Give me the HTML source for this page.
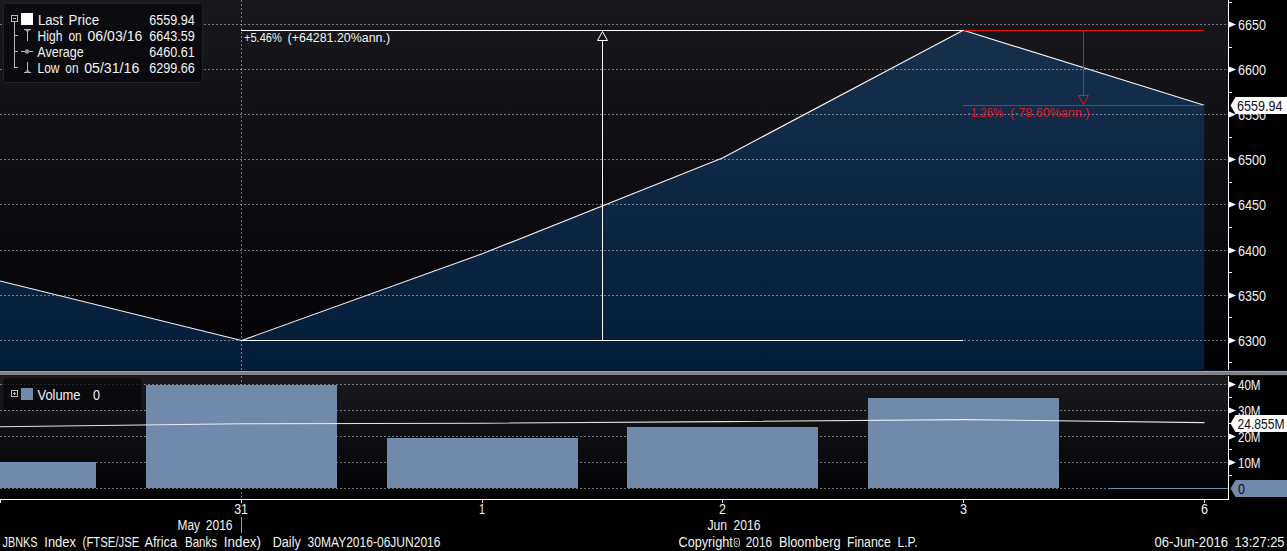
<!DOCTYPE html>
<html><head><meta charset="utf-8"><title>JBNKS Index</title>
<style>html,body{margin:0;padding:0;background:#000;overflow:hidden}svg{display:block}text{font-family:"Liberation Sans",sans-serif;}</style>
</head><body>
<svg width="1287" height="551" viewBox="0 0 1287 551">
<defs>
<linearGradient id="bg1" x1="0" y1="0" x2="0" y2="1"><stop offset="0" stop-color="#19181d"/><stop offset="1" stop-color="#020105"/></linearGradient>
<linearGradient id="bg2" x1="0" y1="0" x2="0" y2="1"><stop offset="0" stop-color="#1a1a1f"/><stop offset="1" stop-color="#020205"/></linearGradient>
<linearGradient id="ar" x1="0" y1="30" x2="0" y2="371" gradientUnits="userSpaceOnUse"><stop offset="0" stop-color="#162f4d"/><stop offset="1" stop-color="#031d3b"/></linearGradient>
</defs>
<rect x="0" y="0" width="1287" height="551" fill="#000"/>
<rect x="0" y="0" width="1228" height="371" fill="url(#bg1)"/>
<rect x="0" y="376" width="1228" height="123" fill="url(#bg2)"/>
<polygon points="0,281 241.5,340.5 482.25,253.8 723,157.7 963.3,30.3 1204.2,105.3 1204.2,371 0,371" fill="url(#ar)"/>
<line x1="0" y1="24.5" x2="1228" y2="24.5" stroke="#dfe8f5" stroke-opacity="0.47" stroke-width="1" stroke-dasharray="2 2" shape-rendering="crispEdges"/>
<line x1="0" y1="69.5" x2="1228" y2="69.5" stroke="#dfe8f5" stroke-opacity="0.47" stroke-width="1" stroke-dasharray="2 2" shape-rendering="crispEdges"/>
<line x1="0" y1="114.5" x2="1228" y2="114.5" stroke="#dfe8f5" stroke-opacity="0.47" stroke-width="1" stroke-dasharray="2 2" shape-rendering="crispEdges"/>
<line x1="0" y1="159.5" x2="1228" y2="159.5" stroke="#dfe8f5" stroke-opacity="0.47" stroke-width="1" stroke-dasharray="2 2" shape-rendering="crispEdges"/>
<line x1="0" y1="204.5" x2="1228" y2="204.5" stroke="#dfe8f5" stroke-opacity="0.47" stroke-width="1" stroke-dasharray="2 2" shape-rendering="crispEdges"/>
<line x1="0" y1="250.5" x2="1228" y2="250.5" stroke="#dfe8f5" stroke-opacity="0.47" stroke-width="1" stroke-dasharray="2 2" shape-rendering="crispEdges"/>
<line x1="0" y1="295.5" x2="1228" y2="295.5" stroke="#dfe8f5" stroke-opacity="0.47" stroke-width="1" stroke-dasharray="2 2" shape-rendering="crispEdges"/>
<line x1="0" y1="340.5" x2="1228" y2="340.5" stroke="#dfe8f5" stroke-opacity="0.47" stroke-width="1" stroke-dasharray="2 2" shape-rendering="crispEdges"/>
<line x1="241.5" y1="0" x2="241.5" y2="371" stroke="#dfe8f5" stroke-opacity="0.47" stroke-width="1" stroke-dasharray="2 2" shape-rendering="crispEdges"/>
<line x1="241.5" y1="376" x2="241.5" y2="499" stroke="#dfe8f5" stroke-opacity="0.47" stroke-width="1" stroke-dasharray="2 2" shape-rendering="crispEdges"/>
<polyline points="0,281 241.5,340.5 482.25,253.8 723,157.7 963.3,30.3 1204.2,105.3" fill="none" stroke="#f0f0f0" stroke-width="1.15" stroke-linejoin="round"/>
<g stroke="#fff" stroke-width="1" fill="none" shape-rendering="crispEdges">
<line x1="241" y1="30.5" x2="963" y2="30.5"/>
<line x1="241" y1="340.5" x2="963" y2="340.5"/>
<line x1="602.5" y1="40" x2="602.5" y2="340"/>
</g>
<polygon points="602.5,31.5 597.5,40.5 607.5,40.5" fill="none" stroke="#fff" stroke-width="1"/>
<text x="244" y="42" font-size="12" fill="#f2f2f2" textLength="37.8" lengthAdjust="spacingAndGlyphs">+5.46%</text>
<text x="287.6" y="42" font-size="12" fill="#f2f2f2" textLength="102.5" lengthAdjust="spacingAndGlyphs">(+64281.20%ann.)</text>
<g stroke="#e41218" stroke-width="1" fill="none" shape-rendering="crispEdges">
<line x1="963.5" y1="30.5" x2="1204" y2="30.5"/>
<line x1="963" y1="105.5" x2="1204" y2="105.5"/>
<line x1="1083.5" y1="31" x2="1083.5" y2="96"/>
</g>
<polygon points="1083.5,104.5 1078.5,95.5 1088.5,95.5" fill="none" stroke="#e41218" stroke-width="1"/>
<text x="967" y="117" font-size="12" fill="#e41218" textLength="36" lengthAdjust="spacingAndGlyphs">-1.26%</text>
<text x="1010" y="117" font-size="12" fill="#e41218" textLength="79.4" lengthAdjust="spacingAndGlyphs">(-78.60%ann.)</text>
<line x1="0" y1="384.5" x2="1228" y2="384.5" stroke="#dfe8f5" stroke-opacity="0.47" stroke-width="1" stroke-dasharray="2 2" shape-rendering="crispEdges"/>
<line x1="0" y1="410.5" x2="1228" y2="410.5" stroke="#dfe8f5" stroke-opacity="0.47" stroke-width="1" stroke-dasharray="2 2" shape-rendering="crispEdges"/>
<line x1="0" y1="436.5" x2="1228" y2="436.5" stroke="#dfe8f5" stroke-opacity="0.47" stroke-width="1" stroke-dasharray="2 2" shape-rendering="crispEdges"/>
<line x1="0" y1="462.5" x2="1228" y2="462.5" stroke="#dfe8f5" stroke-opacity="0.47" stroke-width="1" stroke-dasharray="2 2" shape-rendering="crispEdges"/>
<line x1="0" y1="488.5" x2="1228" y2="488.5" stroke="#dfe8f5" stroke-opacity="0.47" stroke-width="1" stroke-dasharray="2 2" shape-rendering="crispEdges"/>
<rect x="0" y="462" width="96" height="26" fill="#7189ab" shape-rendering="crispEdges"/>
<rect x="146" y="385" width="191" height="103" fill="#7189ab" shape-rendering="crispEdges"/>
<rect x="387" y="438" width="191" height="50" fill="#7189ab" shape-rendering="crispEdges"/>
<rect x="627" y="427" width="191" height="61" fill="#7189ab" shape-rendering="crispEdges"/>
<rect x="868" y="398" width="191" height="90" fill="#7189ab" shape-rendering="crispEdges"/>
<rect x="1108" y="488" width="120" height="1" fill="#7189ab" shape-rendering="crispEdges"/>
<polyline points="0,426.8 241.5,423.8 482.25,423.2 723,421.6 963.75,419.6 1204.5,422.6" fill="none" stroke="#f2f6fc" stroke-width="1.15" opacity="0.92"/>
<g stroke="#fff" stroke-width="1" shape-rendering="crispEdges">
<line x1="1228.5" y1="0" x2="1228.5" y2="500"/>
<line x1="0" y1="499.5" x2="1229" y2="499.5"/>
<line x1="0.5" y1="499" x2="0.5" y2="503"/>
<line x1="241.5" y1="499" x2="241.5" y2="503"/>
<line x1="482.5" y1="499" x2="482.5" y2="503"/>
<line x1="722.5" y1="499" x2="722.5" y2="503"/>
<line x1="963.5" y1="499" x2="963.5" y2="503"/>
<line x1="1204.5" y1="499" x2="1204.5" y2="503"/>
<line x1="1228" y1="2.5" x2="1232" y2="2.5"/>
<line x1="1228" y1="47.5" x2="1232" y2="47.5"/>
<line x1="1228" y1="92.5" x2="1232" y2="92.5"/>
<line x1="1228" y1="137.5" x2="1232" y2="137.5"/>
<line x1="1228" y1="182.5" x2="1232" y2="182.5"/>
<line x1="1228" y1="227.5" x2="1232" y2="227.5"/>
<line x1="1228" y1="272.5" x2="1232" y2="272.5"/>
<line x1="1228" y1="317.5" x2="1232" y2="317.5"/>
<line x1="1228" y1="362.5" x2="1232" y2="362.5"/>
<line x1="1228" y1="397.5" x2="1232" y2="397.5"/>
<line x1="1228" y1="423.5" x2="1232" y2="423.5"/>
<line x1="1228" y1="449.5" x2="1232" y2="449.5"/>
<line x1="1228" y1="475.5" x2="1232" y2="475.5"/>
</g>
<rect x="0" y="370" width="1287" height="1" fill="#011027"/>
<rect x="0" y="371" width="1287" height="1" fill="#9aa8b9"/>
<rect x="0" y="372" width="1287" height="2" fill="#808080"/>
<rect x="0" y="374" width="1287" height="1" fill="#878583"/>
<rect x="0" y="375" width="1287" height="1" fill="#151512"/>
<line x1="241.5" y1="517" x2="241.5" y2="533" stroke="#9a9a9a" stroke-width="1" shape-rendering="crispEdges"/>
<polygon points="1229,21.5 1236,24.5 1229,27.5" fill="#fff"/>
<text x="1238" y="29.5" font-size="13.8" fill="#f2f2f2" textLength="28" lengthAdjust="spacingAndGlyphs">6650</text>
<polygon points="1229,66.5 1236,69.5 1229,72.5" fill="#fff"/>
<text x="1238" y="74.5" font-size="13.8" fill="#f2f2f2" textLength="28" lengthAdjust="spacingAndGlyphs">6600</text>
<polygon points="1229,111.5 1236,114.5 1229,117.5" fill="#fff"/>
<text x="1238" y="119.5" font-size="13.8" fill="#f2f2f2" textLength="28" lengthAdjust="spacingAndGlyphs">6550</text>
<polygon points="1229,156.5 1236,159.5 1229,162.5" fill="#fff"/>
<text x="1238" y="164.5" font-size="13.8" fill="#f2f2f2" textLength="28" lengthAdjust="spacingAndGlyphs">6500</text>
<polygon points="1229,201.5 1236,204.5 1229,207.5" fill="#fff"/>
<text x="1238" y="209.5" font-size="13.8" fill="#f2f2f2" textLength="28" lengthAdjust="spacingAndGlyphs">6450</text>
<polygon points="1229,247.5 1236,250.5 1229,253.5" fill="#fff"/>
<text x="1238" y="255.5" font-size="13.8" fill="#f2f2f2" textLength="28" lengthAdjust="spacingAndGlyphs">6400</text>
<polygon points="1229,292.5 1236,295.5 1229,298.5" fill="#fff"/>
<text x="1238" y="300.5" font-size="13.8" fill="#f2f2f2" textLength="28" lengthAdjust="spacingAndGlyphs">6350</text>
<polygon points="1229,337.5 1236,340.5 1229,343.5" fill="#fff"/>
<text x="1238" y="345.5" font-size="13.8" fill="#f2f2f2" textLength="28" lengthAdjust="spacingAndGlyphs">6300</text>
<polygon points="1229,381.5 1236,384.5 1229,387.5" fill="#fff"/>
<text x="1238" y="389.5" font-size="13.8" fill="#f2f2f2" textLength="22.5" lengthAdjust="spacingAndGlyphs">40M</text>
<polygon points="1229,407.5 1236,410.5 1229,413.5" fill="#fff"/>
<text x="1238" y="415.5" font-size="13.8" fill="#f2f2f2" textLength="22.5" lengthAdjust="spacingAndGlyphs">30M</text>
<polygon points="1229,433.5 1236,436.5 1229,439.5" fill="#fff"/>
<text x="1238" y="441.5" font-size="13.8" fill="#f2f2f2" textLength="22.5" lengthAdjust="spacingAndGlyphs">20M</text>
<polygon points="1229,459.5 1236,462.5 1229,465.5" fill="#fff"/>
<text x="1238" y="467.5" font-size="13.8" fill="#f2f2f2" textLength="22.5" lengthAdjust="spacingAndGlyphs">10M</text>
<polygon points="1230.5,105.5 1235.5,97 1287,97 1287,114 1235.5,114" fill="#fff"/>
<text x="1237" y="111" font-size="13.8" fill="#10101a" textLength="45.5" lengthAdjust="spacingAndGlyphs">6559.94</text>
<polygon points="1230.5,423.5 1235.5,415 1287,415 1287,432 1235.5,432" fill="#fff"/>
<text x="1237.5" y="429" font-size="13.8" fill="#10101a" textLength="47" lengthAdjust="spacingAndGlyphs">24.855M</text>
<polygon points="1230.5,488.5 1235.5,480 1287,480 1287,497 1235.5,497" fill="#7189ab"/>
<text x="1238" y="493.5" font-size="13.8" fill="#10101a" textLength="7" lengthAdjust="spacingAndGlyphs">0</text>
<text x="234.2" y="513.5" font-size="13.8" fill="#f2f2f2" textLength="13.8" lengthAdjust="spacingAndGlyphs">31</text>
<text x="479.0" y="513.5" font-size="13.8" fill="#f2f2f2" textLength="6" lengthAdjust="spacingAndGlyphs">1</text>
<text x="719.0" y="513.5" font-size="13.8" fill="#f2f2f2" textLength="7" lengthAdjust="spacingAndGlyphs">2</text>
<text x="960.0" y="513.5" font-size="13.8" fill="#f2f2f2" textLength="7" lengthAdjust="spacingAndGlyphs">3</text>
<text x="1201.0" y="513.5" font-size="13.8" fill="#f2f2f2" textLength="7" lengthAdjust="spacingAndGlyphs">6</text>
<text x="2.6" y="547" font-size="13.8" fill="#f2f2f2" textLength="34.9" lengthAdjust="spacingAndGlyphs">JBNKS</text>
<text x="44.3" y="547" font-size="13.8" fill="#f2f2f2" textLength="31.7" lengthAdjust="spacingAndGlyphs">Index</text>
<text x="82.6" y="547" font-size="13.8" fill="#f2f2f2" textLength="56.8" lengthAdjust="spacingAndGlyphs">(FTSE/JSE</text>
<text x="144.4" y="547" font-size="13.8" fill="#f2f2f2" textLength="32.6" lengthAdjust="spacingAndGlyphs">Africa</text>
<text x="185" y="547" font-size="13.8" fill="#f2f2f2" textLength="32" lengthAdjust="spacingAndGlyphs">Banks</text>
<text x="223.8" y="547" font-size="13.8" fill="#f2f2f2" textLength="37.2" lengthAdjust="spacingAndGlyphs">Index)</text>
<text x="272.7" y="547" font-size="13.8" fill="#f2f2f2" textLength="28.1" lengthAdjust="spacingAndGlyphs">Daily</text>
<text x="307.6" y="547" font-size="13.8" fill="#f2f2f2" textLength="132.9" lengthAdjust="spacingAndGlyphs">30MAY2016-06JUN2016</text>
<text x="678.5" y="547" font-size="13.8" fill="#f2f2f2" textLength="54.3" lengthAdjust="spacingAndGlyphs">Copyright</text>
<text x="745.8" y="547" font-size="13.8" fill="#f2f2f2" textLength="26.2" lengthAdjust="spacingAndGlyphs">2016</text>
<text x="778.9" y="547" font-size="13.8" fill="#f2f2f2" textLength="61.8" lengthAdjust="spacingAndGlyphs">Bloomberg</text>
<text x="847" y="547" font-size="13.8" fill="#f2f2f2" textLength="43.8" lengthAdjust="spacingAndGlyphs">Finance</text>
<text x="897.5" y="547" font-size="13.8" fill="#f2f2f2" textLength="20.0" lengthAdjust="spacingAndGlyphs">L.P.</text>
<rect x="734.2" y="538.4" width="5.2" height="8.2" rx="2" ry="2" fill="none" stroke="#e4e0d8" stroke-width="0.9"/>
<path d="M738.2,541.2 A1.5,1.7 0 1 0 738.2,543.9" fill="none" stroke="#e4e0d8" stroke-width="0.8"/>
<text x="1154.5" y="547" font-size="13.8" fill="#f2f2f2" textLength="73.5" lengthAdjust="spacingAndGlyphs">06-Jun-2016</text>
<text x="1234.4" y="547" font-size="13.8" fill="#f2f2f2" textLength="50.1" lengthAdjust="spacingAndGlyphs">13:27:25</text>
<text x="177.6" y="529.5" font-size="13.8" fill="#f2f2f2" textLength="22.4" lengthAdjust="spacingAndGlyphs">May</text>
<text x="205.7" y="529.5" font-size="13.8" fill="#f2f2f2" textLength="26.9" lengthAdjust="spacingAndGlyphs">2016</text>
<text x="707.4" y="529.5" font-size="13.8" fill="#f2f2f2" textLength="19.8" lengthAdjust="spacingAndGlyphs">Jun</text>
<text x="733.6" y="529.5" font-size="13.8" fill="#f2f2f2" textLength="26.9" lengthAdjust="spacingAndGlyphs">2016</text>
<rect x="3.5" y="3.5" width="199" height="79" rx="3" ry="3" fill="#0a0a0e" fill-opacity="0.92" stroke="#202025" stroke-width="1"/>
<g stroke="#b8b8b8" stroke-width="1" fill="none" shape-rendering="crispEdges">
<rect x="11.5" y="15.5" width="6" height="6"/>
<line x1="13" y1="18.5" x2="16" y2="18.5"/>
<line x1="14.5" y1="22" x2="14.5" y2="68"/>
<line x1="14.5" y1="35.5" x2="18" y2="35.5"/>
<line x1="14.5" y1="51.5" x2="18" y2="51.5"/>
<line x1="14.5" y1="67.5" x2="18" y2="67.5"/>
<line x1="24" y1="29.5" x2="31" y2="29.5"/><line x1="27.5" y1="29" x2="27.5" y2="41"/>
<line x1="21" y1="51.5" x2="33" y2="51.5"/>
<line x1="24" y1="72.5" x2="31" y2="72.5"/><line x1="27.5" y1="62" x2="27.5" y2="73"/>
</g>
<polygon points="25,30 30,30 27.5,33" fill="#b8b8b8" opacity="0.6"/>
<polygon points="25,72 30,72 27.5,69" fill="#b8b8b8" opacity="0.6"/>
<circle cx="27" cy="51.5" r="2.2" fill="#9a9a9a"/>
<rect x="21" y="13" width="12" height="12" fill="#fff"/>
<text x="37.9" y="25" font-size="13.8" fill="#f2f2f2" textLength="25.0" lengthAdjust="spacingAndGlyphs">Last</text>
<text x="68.6" y="25" font-size="13.8" fill="#f2f2f2" textLength="30.5" lengthAdjust="spacingAndGlyphs">Price</text>
<text x="149.2" y="25" font-size="13.8" fill="#f2f2f2" textLength="45.5" lengthAdjust="spacingAndGlyphs">6559.94</text>
<text x="37.6" y="41" font-size="13.8" fill="#f2f2f2" textLength="24.8" lengthAdjust="spacingAndGlyphs">High</text>
<text x="68.4" y="41" font-size="13.8" fill="#f2f2f2" textLength="13.2" lengthAdjust="spacingAndGlyphs">on</text>
<text x="87.5" y="41" font-size="13.8" fill="#f2f2f2" textLength="54.8" lengthAdjust="spacingAndGlyphs">06/03/16</text>
<text x="149.2" y="41" font-size="13.8" fill="#f2f2f2" textLength="45.5" lengthAdjust="spacingAndGlyphs">6643.59</text>
<text x="37.3" y="57" font-size="13.8" fill="#f2f2f2" textLength="46.5" lengthAdjust="spacingAndGlyphs">Average</text>
<text x="149.2" y="57" font-size="13.8" fill="#f2f2f2" textLength="45.5" lengthAdjust="spacingAndGlyphs">6460.61</text>
<text x="37.5" y="73" font-size="13.8" fill="#f2f2f2" textLength="22.0" lengthAdjust="spacingAndGlyphs">Low</text>
<text x="65.3" y="73" font-size="13.8" fill="#f2f2f2" textLength="13.2" lengthAdjust="spacingAndGlyphs">on</text>
<text x="84.2" y="73" font-size="13.8" fill="#f2f2f2" textLength="55.1" lengthAdjust="spacingAndGlyphs">05/31/16</text>
<text x="149.2" y="73" font-size="13.8" fill="#f2f2f2" textLength="45.5" lengthAdjust="spacingAndGlyphs">6299.66</text>
<rect x="3.5" y="378.5" width="138" height="32" rx="3" ry="3" fill="#050508" fill-opacity="0.72" stroke="#101014" stroke-width="1"/>
<line x1="4" y1="410.5" x2="140" y2="410.5" stroke="#dfe8f5" stroke-opacity="0.47" stroke-width="1" stroke-dasharray="2 2" shape-rendering="crispEdges"/>
<g stroke="#b8b8b8" stroke-width="1" fill="none" shape-rendering="crispEdges">
<rect x="11.5" y="390.5" width="6" height="6"/><line x1="13" y1="393.5" x2="16" y2="393.5"/><line x1="14.5" y1="392" x2="14.5" y2="395"/>
</g>
<rect x="21" y="388" width="12" height="12" fill="#7189ab"/>
<text x="37.5" y="400" font-size="13.8" fill="#f2f2f2" textLength="43" lengthAdjust="spacingAndGlyphs">Volume</text>
<text x="93" y="400" font-size="13.8" fill="#f2f2f2" textLength="7" lengthAdjust="spacingAndGlyphs">0</text>
</svg></body></html>
